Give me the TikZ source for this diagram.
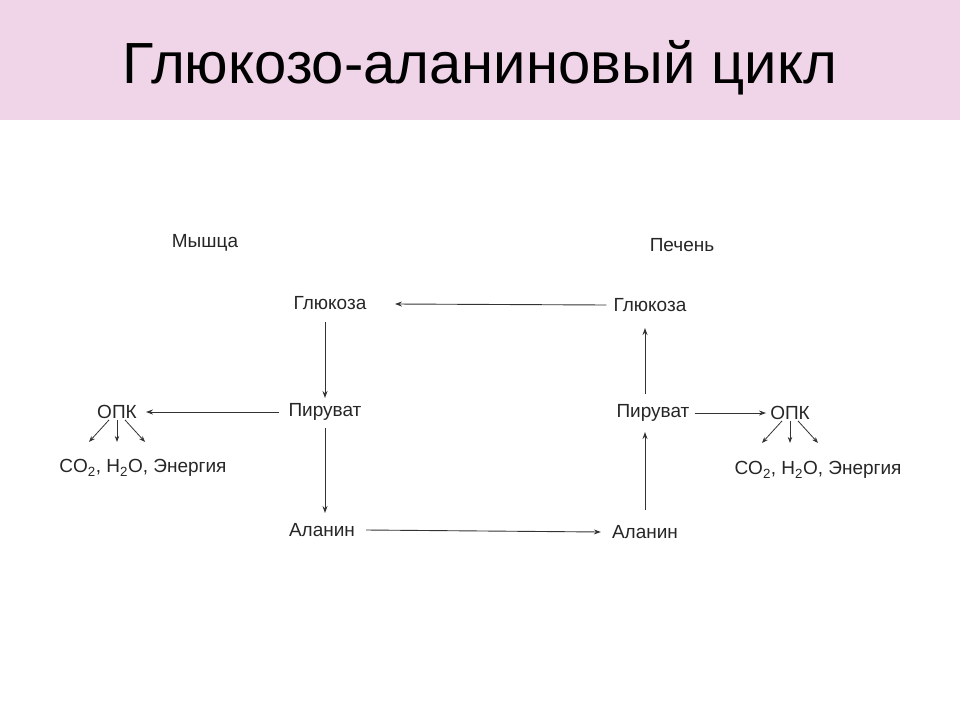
\documentclass[tikz,border=0pt]{standalone}
\usepackage{fontspec}
\setmainfont{Liberation Sans}
\usetikzlibrary{arrows.meta}
\definecolor{titlepink}{HTML}{F0D4E8}
\tikzset{
  lbl/.style={font=\fontsize{19}{21}\selectfont, text=black!85, inner sep=1pt},
  flow/.style={-{Stealth[length=7pt,width=5pt]}, line width=0.9pt, black!80},
  split/.style={-{Stealth[length=6pt,width=4.5pt]}, line width=0.8pt, black!80}
}
\begin{document}
\begin{tikzpicture}[x=1pt,y=-1pt]
\useasboundingbox (0,0) rectangle (960,720);
\fill[titlepink] (0,0) rectangle (960,120);
\node[font=\fontsize{58}{64}\selectfont] (title) at (480,68) {Глюкозо-аланиновый цикл};
\node[lbl] (muscle) at (205,243) {Мышца};
\node[lbl] (liver) at (682,245) {Печень};
\node[lbl] (glcL) at (330,303) {Глюкоза};
\node[lbl] (pyrL) at (325,412) {Пируват};
\node[lbl] (alaL) at (322,530) {Аланин};
\node[lbl] (glcR) at (650,305) {Глюкоза};
\node[lbl] (pyrR) at (653,413) {Пируват};
\node[lbl] (alaR) at (645,532) {Аланин};
\node[lbl] (opkL) at (117,412) {ОПК};
\node[lbl] (prodL) at (143,468) {CO\textsubscript{2}, H\textsubscript{2}O, Энергия};
\node[lbl] (opkR) at (790,413) {ОПК};
\node[lbl] (prodR) at (818,470) {CO\textsubscript{2}, H\textsubscript{2}O, Энергия};
% connectors
\coordinate (l1) at (325,322);
\coordinate (l2) at (325,398);
\coordinate (l3) at (325,428);
\coordinate (l4) at (325,513);
\coordinate (r1) at (645,510);
\coordinate (r2) at (645,432);
\coordinate (r3) at (645,394);
\coordinate (r4) at (645,328);
\draw[flow] (glcR.west) ++(-6,0) -- (395,304);
\draw[flow] (l1) -- (l2);
\draw[flow] (l3) -- (l4);
\draw[flow] ([xshift=-8pt]pyrL.west) -- ([xshift=8pt]opkL.east);
\draw[flow] ([xshift=10pt]alaL.east) -- ([xshift=-10pt]alaR.west);
\draw[flow] (r1) -- (r2);
\draw[flow] (r3) -- (r4);
\draw[flow] ([xshift=4pt]pyrR.east) -- ([xshift=-3pt]opkR.west);
\foreach \s in {L,R}{
  \draw[split] ([xshift=-8pt]opk\s.south) -- ++(-20,22);
  \draw[split] (opk\s.south) -- ++(0,22);
  \draw[split] ([xshift=8pt]opk\s.south) -- ++(20,22);
}
\end{tikzpicture}
\end{document}
